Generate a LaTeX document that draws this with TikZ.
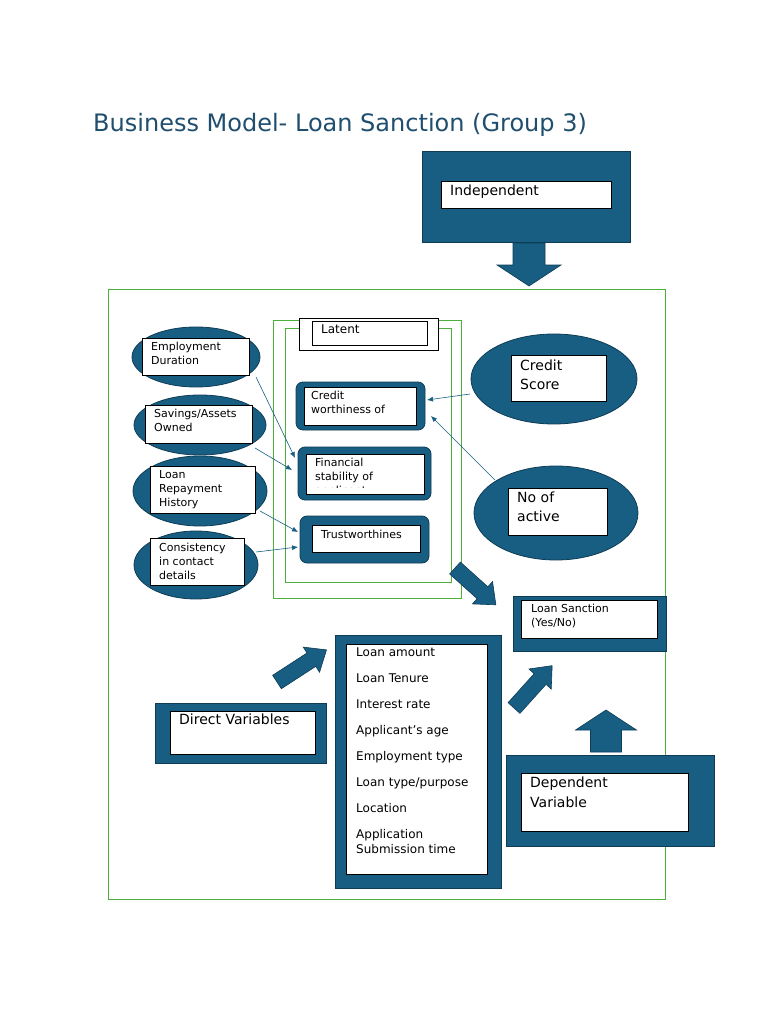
\documentclass[tikz,border=0pt]{standalone}
\usepackage{fontspec}
\setmainfont{DejaVu Sans}
\begin{document}
\begin{tikzpicture}[x=1pt,y=-1pt,
  every node/.style={inner sep=0pt},
  blue/.style={fill=teal1,draw=teal2,line width=0.8pt},
  wbox/.style={fill=white,draw=black,line width=0.6pt},
  gr/.style={draw=grn,line width=0.8pt},
  thin/.style={draw=teal1,line width=0.6pt,-{Latex[length=6pt,width=5pt]}},
  txt/.style={anchor=north west,align=left,font=\fontsize{11}{14}\selectfont},
  barrow/.style={fill=teal1,draw=teal2,line width=0.6pt}]
\definecolor{teal1}{HTML}{175E82}
\definecolor{teal2}{HTML}{0E3C55}
\definecolor{grn}{HTML}{4CAF3A}
\definecolor{ttl}{HTML}{1F4E6E}
\usetikzlibrary{arrows.meta}
\newcommand\blockarrow[7]{\draw[barrow,shift={(#1,#2)},rotate=#3] (0,-#5)--(#4-#7,-#5)--(#4-#7,-#6)--(#4,0)--(#4-#7,#6)--(#4-#7,#5)--(0,#5)--cycle;}
\useasboundingbox (0,0) rectangle (768,1024);
\fill[white] (0,0) rectangle (768,1024);
\node[anchor=base west,font=\fontsize{24}{28}\selectfont,text=ttl] (title) at (93,132) {Business Model- Loan Sanction (Group 3)};
% independent
\draw[blue] (422,151) rectangle (630,242);
\draw[wbox] (441,181) rectangle (611,208);
\node[txt,font=\fontsize{14}{17}\selectfont] (ind) at (450,185) {Independent};
\blockarrow{529}{243}{-90}{43}{16}{32}{21}
% outer frame
\draw[gr] (108,289) rectangle (665,899);
\draw[gr] (273,320) rectangle (461,598);
\draw[gr] (285,328) rectangle (451,582);
\draw[fill=white,draw=black,line width=0.6pt] (299,318) rectangle (438,350);
\draw[wbox] (312,321) rectangle (427,345);
\node[txt,font=\fontsize{12}{15}\selectfont] (lat) at (321,325) {Latent};
% left ellipses
\draw[blue] (196,357) ellipse [x radius=64,y radius=30];
\draw[blue] (200,425) ellipse [x radius=66,y radius=30];
\draw[blue] (200,491) ellipse [x radius=67,y radius=35];
\draw[blue] (196,565) ellipse [x radius=62,y radius=34];
\draw[wbox] (142,338) rectangle (249,375);
\node[txt] (e1) at (151,342) {Employment\\Duration};
\draw[wbox] (145,405) rectangle (252,443);
\node[txt] (e2) at (154,409) {Savings/Assets\\Owned};
\draw[wbox] (150,466) rectangle (255,513);
\begin{scope}
\clip (150,466) rectangle (255,512);
\node[txt] (e3) at (159,470) {Loan\\Repayment\\History};
\end{scope}
\draw[wbox] (150,538) rectangle (244,585);
\node[txt] (e4) at (159,543) {Consistency\\in contact\\details};
% centre boxes
\draw[blue,rounded corners=7pt] (296,382) rectangle (425,430);
\draw[wbox] (304,387) rectangle (416,425);
\node[txt] (c1) at (311,391) {Credit\\worthiness of};
\draw[blue,rounded corners=7pt] (298,447) rectangle (431,500);
\draw[wbox] (306,454) rectangle (424,494);
\begin{scope}
\clip (306,454) rectangle (424,487);
\node[txt] (c2) at (315,458) {Financial\\stability of\\applicant};
\end{scope}
\draw[blue,rounded corners=7pt] (300,516) rectangle (429,563);
\draw[wbox] (312,525) rectangle (420,552);
\node[txt] (c3) at (321,530) {Trustworthines};
% right ellipses
\draw[blue] (554,379) ellipse [x radius=83,y radius=45];
\draw[wbox] (511,355) rectangle (606,401);
\node[txt,font=\fontsize{14}{19}\selectfont] (r1) at (520,360) {Credit\\Score};
\draw[blue] (556,513) ellipse [x radius=82,y radius=47];
\draw[wbox] (508,488) rectangle (607,535);
\node[txt,font=\fontsize{14}{19}\selectfont] (r2) at (517,492) {No of\\active};
% thin arrows
\coordinate (a1) at (256,377); \coordinate (b1) at (295,458);
\coordinate (a2) at (255,448); \coordinate (b2) at (292,470);
\coordinate (a3) at (260,511); \coordinate (b3) at (298,532);
\coordinate (a4) at (256,552); \coordinate (b4) at (298,547);
\coordinate (a5) at (470,394); \coordinate (b5) at (427,400);
\coordinate (a6) at (495,480); \coordinate (b6) at (431,416);
\foreach \i in {1,...,6}{\draw[thin] (a\i) -- (b\i);}
% block arrows
\blockarrow{455}{568}{-42}{55}{8}{15}{18}
\blockarrow{277}{682}{33}{59}{8}{15}{18}
\blockarrow{514}{708}{48}{57}{8}{15}{18}
\blockarrow{606}{752}{90}{42}{15.5}{30.5}{20}
% loan sanction
\draw[blue] (513,596) rectangle (666,651);
\draw[wbox] (521,600) rectangle (657,638);
\node[txt] (ls) at (531,604) {Loan Sanction\\(Yes/No)};
% list
\draw[blue] (335,635) rectangle (501,888);
\draw[wbox] (346,644) rectangle (487,874);
\node[txt,font=\fontsize{12}{15}\selectfont] (list) at (356,648) {Loan amount\\[11pt]Loan Tenure\\[11pt]Interest rate\\[11pt]Applicant’s age\\[11pt]Employment type\\[11pt]Loan type/purpose\\[11pt]Location\\[11pt]Application\\Submission time};
% direct
\draw[blue] (155,703) rectangle (326,763);
\draw[wbox] (170,711) rectangle (315,754);
\node[txt,font=\fontsize{14}{17}\selectfont] (dv) at (179,714) {Direct Variables};
% dependent
\draw[blue] (506,755) rectangle (714,846);
\draw[wbox] (521,773) rectangle (688,831);
\node[txt,font=\fontsize{14}{20}\selectfont] (dep) at (530,777) {Dependent\\Variable};
\end{tikzpicture}
\end{document}
